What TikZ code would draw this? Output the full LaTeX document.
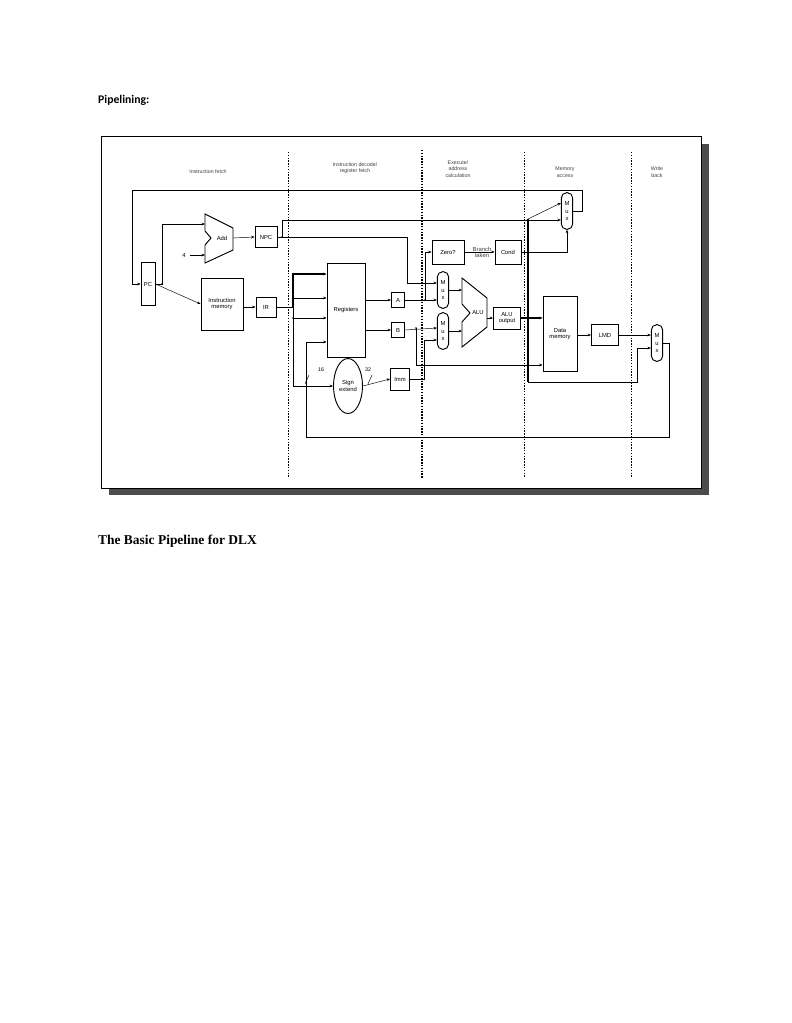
\documentclass[tikz,border=0pt]{standalone}
\usepackage{fontspec}
\setmainfont{Liberation Serif}
\newfontfamily\carlito{Carlito}
\newfontfamily\diag{Liberation Sans}
\usetikzlibrary{arrows.meta,shapes.geometric}

\tikzset{
  box/.style 2 args={draw, thick, inner sep=0pt, minimum width=#1*0.3mm, minimum height=#2*0.3mm, font=\diag\fontsize{5}{5.5}\selectfont, align=center},
  mux/.style={draw, thick, rounded corners=1.6mm, inner sep=0pt, minimum width=3.4mm, minimum height=11mm, font=\diag\fontsize{5}{6}\selectfont, align=center},
  wire/.style={-{Stealth[length=1mm,width=0.8mm]}, line width=0.4pt},
  stage/.style={dash pattern=on 1.2pt off 1.2pt, line width=0.6pt},
  lbl/.style={font=\diag\fontsize{4.5}{5.5}\selectfont, align=center, text=black!75},
  dot/.style={circle, fill, inner sep=0.5pt}
}

\begin{document}
\begin{tikzpicture}[x=0.3mm,y=-0.3mm]
  \useasboundingbox (0,0) rectangle (791,1023);
  % page text
  \node[anchor=west, font=\carlito\bfseries\fontsize{10}{12}\selectfont] at (94,100) {Pipelining:};
  \node[anchor=west, font=\bfseries\fontsize{11.5}{13}\selectfont] at (94,541) {The Basic Pipeline for DLX};
  % frame with shadow
  \fill[black!70] (109,144) rectangle (709,495);
  \draw[fill=white] (101,136) rectangle (701,488);

  % stage borders
  \foreach \x in {288, 524, 631} \draw[stage] (\x,152) -- (\x,478);
  \draw[stage, line width=1.1pt] (422,150) -- (422,478);
  \node[lbl] at (208,172) {Instruction fetch};
  \node[lbl] at (355,168) {Instruction decode/\\register fetch};
  \node[lbl] at (458,169) {Execute/\\address\\calculation};
  \node[lbl] at (565,172) {Memory\\access};
  \node[lbl] at (657,172) {Write\\back};

  % instruction fetch
  \node[box={14}{43}, fill=white] (pc) at (148,284) {PC};
  \draw[thick] (205,214) -- (233,228) -- (233,250) -- (205,263) -- (205,245) -- (211,238) -- (205,231) -- cycle;
  \node[font=\diag\fontsize{5}{5}\selectfont] at (222,238) {Add};
  \coordinate (addin1) at (205,224);
  \coordinate (addin2) at (205,255);
  \coordinate (addout) at (233,238);
  \node[font=\diag\fontsize{5}{5}\selectfont] (four) at (184,255) {4};
  \node[box={22}{21}] (npc) at (266,237) {NPC};
  \node[box={42}{52}] (imem) at (222,304) {Instruction\\memory};
  \node[box={20}{20}] (ir) at (266,307) {IR};

  % decode
  \node[box={38}{94}] (regs) at (346,310) {Registers};
  \node[box={13}{15}] (ra) at (398,300) {A};
  \node[box={13}{15}] (rb) at (398,330) {B};
  \node[draw, thick, ellipse, minimum width=29*0.3mm, minimum height=55*0.3mm, inner sep=0pt, font=\diag\fontsize{5}{5.5}\selectfont, align=center] (sext) at (348,386) {Sign\\extend};
  \node[box={19}{22}] (imm) at (400,379) {Imm};

  % execute
  \node[box={32}{24}] (zero) at (448,252) {Zero?};
  \node[box={26}{24}] (cond) at (508,252) {Cond};
  \node[lbl, font=\diag\fontsize{5}{5}\selectfont] at (482,252) {Branch\\taken};
  \node[mux] (muxa) at (443,290) {M\\u\\x};
  \node[mux] (muxb) at (443,331) {M\\u\\x};
  \draw[thick] (462,278) -- (487,298) -- (487,327) -- (462,347) -- (462,322) -- (470,313) -- (462,304) -- cycle;
  \node[font=\diag\fontsize{5}{5}\selectfont] at (478,313) {ALU};
  \coordinate (aluout) at (487,318);
  \node[box={27}{22}] (aluo) at (507,318) {ALU\\output};

  % memory and write back
  \node[mux] (muxpc) at (567,211) {M\\u\\x};
  \node[box={34}{75}] (dmem) at (560,334) {Data\\memory};
  \node[box={27}{21}] (lmd) at (605,335) {LMD};
  \node[mux] (muxwb) at (657,343) {M\\u\\x};

  % fetch wiring
  \draw[wire] (muxpc.east) -- (582,211) -- (582,190) -- (132,190) |- (pc.west);
  \draw[wire] (pc.east) -- (162,284) |- (addin1);
  \draw[wire] (pc.east) -- (imem.west);
  \node[dot] at (162,284) {};
  \draw[wire] (four) -- (addin2);
  \draw[wire] (addout) -- (npc.west);
  \draw[wire] (imem.east |- ir) -- (ir.west);
  \draw[wire] (npc.east) -- (282,237) |- ([yshift=-2.7mm]muxpc.west);
  \draw[wire] (npc.east) -- (407,237) |- (muxa.west |- 0,283);
  \node[dot] at (282,237) {};

  % decode wiring
  \draw (ir.east) -- (293,307);
  \draw[wire, line width=0.9pt] (293,307) |- (regs.west |- 0,274);
  \draw[wire] (293,298) -- (regs.west |- 0,298);
  \draw[wire] (293,318) -- (regs.west |- 0,318);
  \foreach \y in {298,307,318} \node[dot] at (293,\y) {};
  \draw[wire] (293,307) |- (sext.west);
  \draw (305,384) -- (309,375);
  \node[font=\diag\fontsize{4.5}{5}\selectfont] at (321,370) {16};
  \draw (368,384) -- (372,375);
  \node[font=\diag\fontsize{4.5}{5}\selectfont] at (368,370) {32};
  \draw[wire] (sext.east) -- (imm.west);
  \draw[wire] (regs.east |- ra) -- (ra.west);
  \draw[wire] (regs.east |- rb) -- (rb.west);

  % execute wiring
  \draw[wire] (ra.east) -- (muxa.west |- ra);
  \draw[wire] (425,300) |- (zero.west);
  \node[dot] at (425,300) {};
  \draw[wire] (rb.east) -- (muxb.west |- 0,328);
  \draw[wire] (416,328) |- (dmem.west |- 0,365);
  \node[dot] at (416,328) {};
  \draw[wire] (imm.east) -- (424,379) |- (muxb.west |- 0,340);
  \draw[wire] (muxa.east) -- (462,290);
  \draw[wire] (muxb.east) -- (462,331);
  \draw[wire] (aluout) -- (aluo.west);
  \draw[wire] (zero.east) -- (cond.west);
  \draw[wire] (cond.east) -| (muxpc.south);

  % memory / write back wiring
  \draw[wire, line width=0.9pt] (aluo.east) -- (dmem.west |- aluo);
  \draw[line width=0.9pt] (528,219) -- (528,382);
  \draw[wire] (528,219) -- ([yshift=2.4mm]muxpc.west);
  \draw[wire] (528,382) -- (637,382) |- (muxwb.west |- 0,348);
  \draw[wire] (dmem.east |- lmd) -- (lmd.west);
  \draw[wire] (lmd.east) -- (muxwb.west |- lmd);
  \draw[wire] (muxwb.east) -- (669,343) |- (306,437) |- (regs.west |- 0,342);
\end{tikzpicture}
\end{document}
